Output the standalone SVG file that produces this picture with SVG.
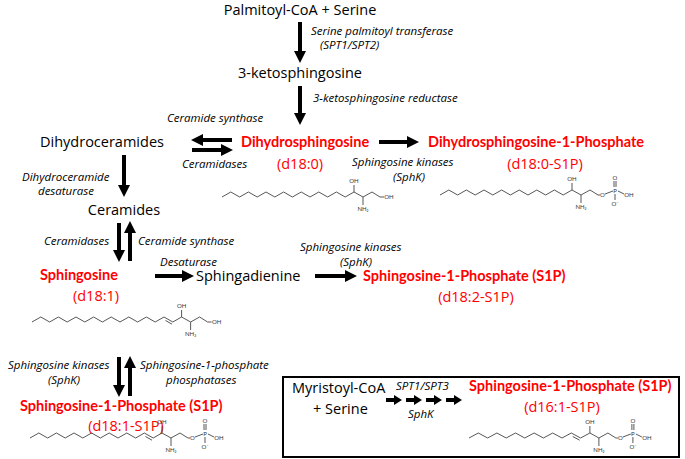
<svg xmlns="http://www.w3.org/2000/svg" xmlns:xlink="http://www.w3.org/1999/xlink" width="685" height="459" viewBox="0 0 685 459">
<style>
text{font-family:Lato,"Open Sans","Liberation Sans",sans-serif;fill:#000}
.n{font-size:14.5px;font-family:"Open Sans","Liberation Sans",sans-serif}
.r{font-size:14.5px;fill:#f00;font-weight:bold}
.rs{font-size:14.5px;fill:#f00;font-family:"Open Sans","Liberation Sans",sans-serif}
.i{font-size:11.5px;font-style:italic;font-family:"Open Sans","Liberation Sans",sans-serif}
.m{font-size:6px;fill:#333;text-anchor:middle}
.c{fill:none;stroke:#444;stroke-width:0.9}
.a{stroke:#000;stroke-width:4;fill:none}
.mid{text-anchor:middle}
</style>
<defs>
<marker id="h" markerUnits="userSpaceOnUse" markerWidth="12" markerHeight="12" refX="1" refY="6" orient="auto"><path d="M0,0 L12,6 L0,12 Z" fill="#000"/></marker>
<marker id="hs" markerUnits="userSpaceOnUse" markerWidth="8" markerHeight="10" refX="1" refY="5" orient="auto"><path d="M0,0 L8,5 L0,10 Z" fill="#000"/></marker>
<g id="tOH">
<path class="c" d="M0,0 v-7 M0,0 l9,5 v8 M9,5 l9,-5 l8,5 l4,0"/>
<text class="m" x="0" y="-9">OH</text><text class="m" x="9" y="19">NH₂</text><text class="m" x="35" y="7">OH</text>
</g>
<g id="tP">
<path class="c" d="M0,0 v-7 M0,0 l9,5 v8 M9,5 l9,-5 l8,5 l2,0 M33,4 l8,-3 M42,-3 v-6 M44,-3 v-6 M43,4 v6 M46,1 l6,3"/>
<text class="m" x="0" y="-9">OH</text><text class="m" x="9" y="19">NH₂</text><text class="m" x="30.5" y="7">O</text><text class="m" x="43" y="3">P</text><text class="m" x="43" y="-10">O</text><text class="m" x="43" y="16">O⁻</text><text class="m" x="57" y="7">OH</text>
</g>
</defs>

<g id="connectors">
<path class="a" d="M300,22 V52" marker-end="url(#h)"/>
<path class="a" d="M300,86 V114" marker-end="url(#h)"/>
<path class="a" d="M232,140 H202" marker-end="url(#h)"/>
<path class="a" d="M192,150 H222" marker-end="url(#h)"/>
<path class="a" d="M379,142 H408" marker-end="url(#h)"/>
<path class="a" d="M124,155 V186" marker-end="url(#h)"/>
<path class="a" d="M119,223 V251" marker-end="url(#h)"/>
<path class="a" d="M130,261 V232" marker-end="url(#h)"/>
<path class="a" d="M155,276 H183" marker-end="url(#h)"/>
<path class="a" d="M315,276 H346" marker-end="url(#h)"/>
<path class="a" d="M119,357 V386" marker-end="url(#h)"/>
<path class="a" d="M130,396 V367" marker-end="url(#h)"/>
<path class="a" d="M386,400 H395" marker-end="url(#hs)"/>
<path class="a" d="M406,400 H415" marker-end="url(#hs)"/>
<path class="a" d="M426,400 H435" marker-end="url(#hs)"/>
<path class="a" d="M446,400 H455" marker-end="url(#hs)"/>
</g>

<g id="n-palmitoyl"><text class="n mid" x="300" y="15">Palmitoyl-CoA + Serine</text></g>
<g id="l-spt"><text class="i" x="311" y="35">Serine palmitoyl transferase</text><text class="i" x="320" y="49">(SPT1/SPT2)</text></g>
<g id="n-keto"><text class="n mid" x="300" y="78">3-ketosphingosine</text></g>
<g id="l-red"><text class="i" x="313" y="102">3-ketosphingosine reductase</text></g>
<g id="n-dhcer"><text class="n" x="40" y="147">Dihydroceramides</text></g>
<g id="l-cs1"><text class="i" x="167" y="122">Ceramide synthase</text><text class="i" x="182" y="168">Ceramidases</text></g>
<g id="n-dhs"><text class="r" x="241" y="147">Dihydrosphingosine</text><text class="rs mid" x="300" y="169">(d18:0)</text>
<path class="c" d="M222,197 l8.8,-5 8.8,5 8.8,-5 8.8,5 8.8,-5 8.8,5 8.8,-5 8.8,5 8.8,-5 8.8,5 8.8,-5 8.8,5 8.8,-5 8.8,5 8.8,-5"/>
<use xlink:href="#tOH" x="354" y="192"/></g>
<g id="l-sphk1"><text class="i" x="352" y="166">Sphingosine kinases</text><text class="i" x="393" y="181">(SphK)</text></g>
<g id="n-dhs1p"><text class="r" x="428" y="147">Dihydrosphingosine-1-Phosphate</text><text class="rs mid" x="545" y="169">(d18:0-S1P)</text>
<path class="c" d="M440,195 l8.8,-5 8.8,5 8.8,-5 8.8,5 8.8,-5 8.8,5 8.8,-5 8.8,5 8.8,-5 8.8,5 8.8,-5 8.8,5 8.8,-5 8.8,5 8.8,-5"/>
<use xlink:href="#tP" x="572" y="190"/></g>
<g id="l-des"><text class="i" x="22" y="181">Dihydroceramide</text><text class="i" x="38" y="195">desaturase</text></g>
<g id="n-cer"><text class="n mid" x="124" y="215">Ceramides</text></g>
<g id="l-cs2"><text class="i" x="44" y="245">Ceramidases</text><text class="i" x="138" y="245">Ceramide synthase</text></g>
<g id="n-sph"><text class="r" x="40" y="280">Sphingosine</text><text class="rs mid" x="96" y="301">(d18:1)</text>
<path class="c" d="M32,322 l8.8,-5 8.8,5 8.8,-5 8.8,5 8.8,-5 8.8,5 8.8,-5 8.8,5 8.8,-5 8.8,5 8.8,-5 8.8,5 8.8,-5 8.8,5 8.8,-5 8.8,5 8.8,-5 M165.5,320.5 l6.5,3.7"/>
<use xlink:href="#tOH" x="181.6" y="317"/></g>
<g id="l-desat"><text class="i" x="160" y="266">Desaturase</text></g>
<g id="n-sphd"><text class="n" x="196" y="281">Sphingadienine</text></g>
<g id="l-sphk2"><text class="i" x="300" y="251">Sphingosine kinases</text><text class="i" x="340" y="266">(SphK)</text></g>
<g id="n-s1p2"><text class="r" x="363" y="281">Sphingosine-1-Phosphate (S1P)</text><text class="rs mid" x="476" y="302">(d18:2-S1P)</text></g>
<g id="l-sphk3"><text class="i" x="8" y="369">Sphingosine kinases</text><text class="i" x="48" y="384">(SphK)</text><text class="i" x="140" y="369">Sphingosine-1-phosphate</text><text class="i" x="166" y="384">phosphatases</text></g>
<g id="n-s1p1"><text class="r" x="20" y="411">Sphingosine-1-Phosphate (S1P)</text><text class="rs mid" x="126" y="431">(d18:1-S1P)</text>
<path class="c" d="M30,438 l8.8,-5 8.8,5 8.8,-5 8.8,5 8.8,-5 8.8,5 8.8,-5 8.8,5 8.8,-5 8.8,5 8.8,-5 8.8,5 8.8,-5 8.8,5 8.8,-5 M145.5,436.5 l6.5,3.7"/>
<use xlink:href="#tP" x="162" y="433"/></g>
<g id="box"><rect x="283" y="377" width="396" height="80" fill="none" stroke="#000" stroke-width="2"/>
<text class="n" x="292" y="393">Myristoyl-CoA</text><text class="n" x="313" y="414">+ Serine</text>
<text class="i" x="396" y="390">SPT1/SPT3</text><text class="i" x="408" y="418">SphK</text></g>
<g id="n-s1p3"><text class="r" x="469" y="391">Sphingosine-1-Phosphate (S1P)</text><text class="rs mid" x="562" y="412">(d16:1-S1P)</text>
<path class="c" d="M469,438 l9.3,-5 9.3,5 9.3,-5 9.3,5 9.3,-5 9.3,5 9.3,-5 9.3,5 9.3,-5 9.3,5 9.3,-5 9.3,5 9.3,-5 M572.8,436.5 l6.8,3.7"/>
<use xlink:href="#tP" x="589.9" y="433"/></g>
</svg>
